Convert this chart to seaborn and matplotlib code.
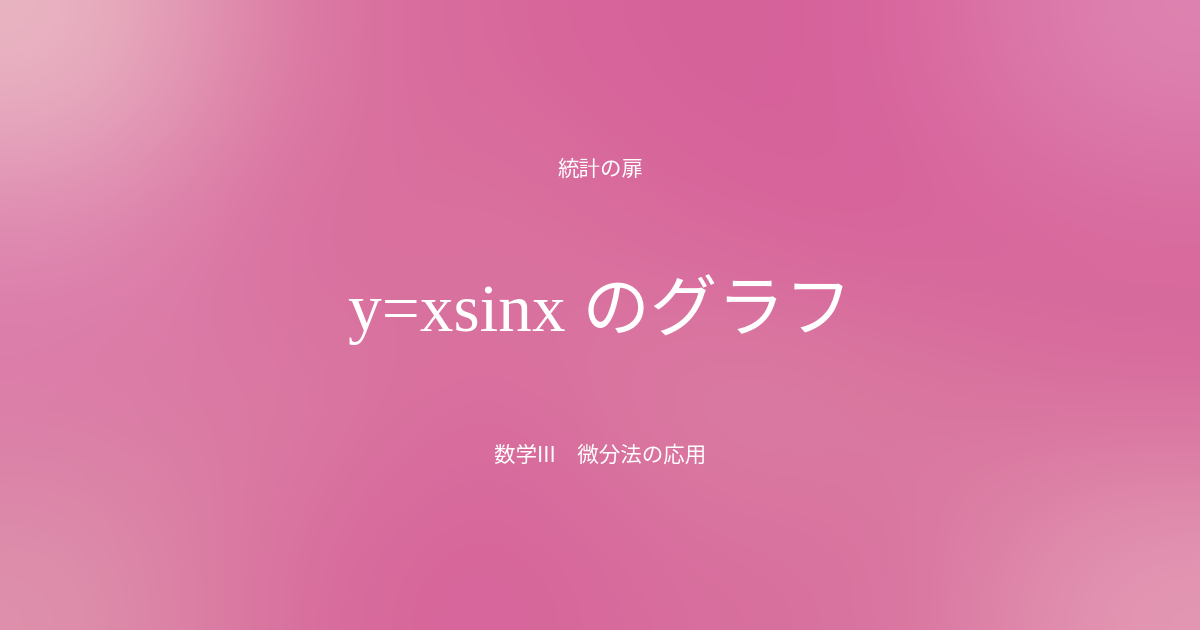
import numpy as np
import matplotlib.pyplot as plt
import matplotlib.colors as mcolors
import seaborn as sns

# text on the card
site_name = '統計の扉'
title_math = 'y=xsinx'
title_jp = ' のグラフ'
subtitle = '数学III\u3000微分法の応用'

# coarse colour grid of the pink background (rows top -> bottom)
bg_row0 = ['#eab8c4', '#da74a0', '#d8689c', '#d6609a', '#d8649c', '#de84b2']
bg_row1 = ['#de86b0', '#d8689c', '#db789f', '#d8679c', '#d6609a', '#d8669c']
bg_row2 = ['#da78a6', '#db7ea3', '#d8699d', '#dc84a5', '#da7ca0', '#d76c9c']
bg_row3 = ['#de92ac', '#d86c9c', '#d6629a', '#d8709e', '#d8709e', '#e49ab4']


def make_background():
    rows = [bg_row0, bg_row1, bg_row2, bg_row3]
    return np.array([[mcolors.to_rgb(c) for c in r] for r in rows])


def main():
    sns.set_theme(style='white')
    plt.rcParams['font.family'] = ['Noto Sans CJK JP', 'DejaVu Sans']

    fig = plt.figure(figsize=(12, 6.3), dpi=100)
    ax = fig.add_axes([0, 0, 1, 1])
    ax.imshow(make_background(), extent=(0, 1200, 630, 0), interpolation='bicubic', aspect='auto')
    ax.set_xlim(0, 1200)
    ax.set_ylim(630, 0)
    ax.axis('off')

    ax.text(600, 170, site_name, color='white', fontsize=15.5, ha='center', va='center')
    ax.text(600, 310, title_math + title_jp, color='white', fontsize=48.5, ha='center', va='center',
            family=['Liberation Serif', 'Noto Sans CJK JP'])
    ax.text(600, 456, subtitle, color='white', fontsize=15.5, ha='center', va='center')

    fig.savefig('out.png', dpi=100)


if __name__ == '__main__':
    main()
